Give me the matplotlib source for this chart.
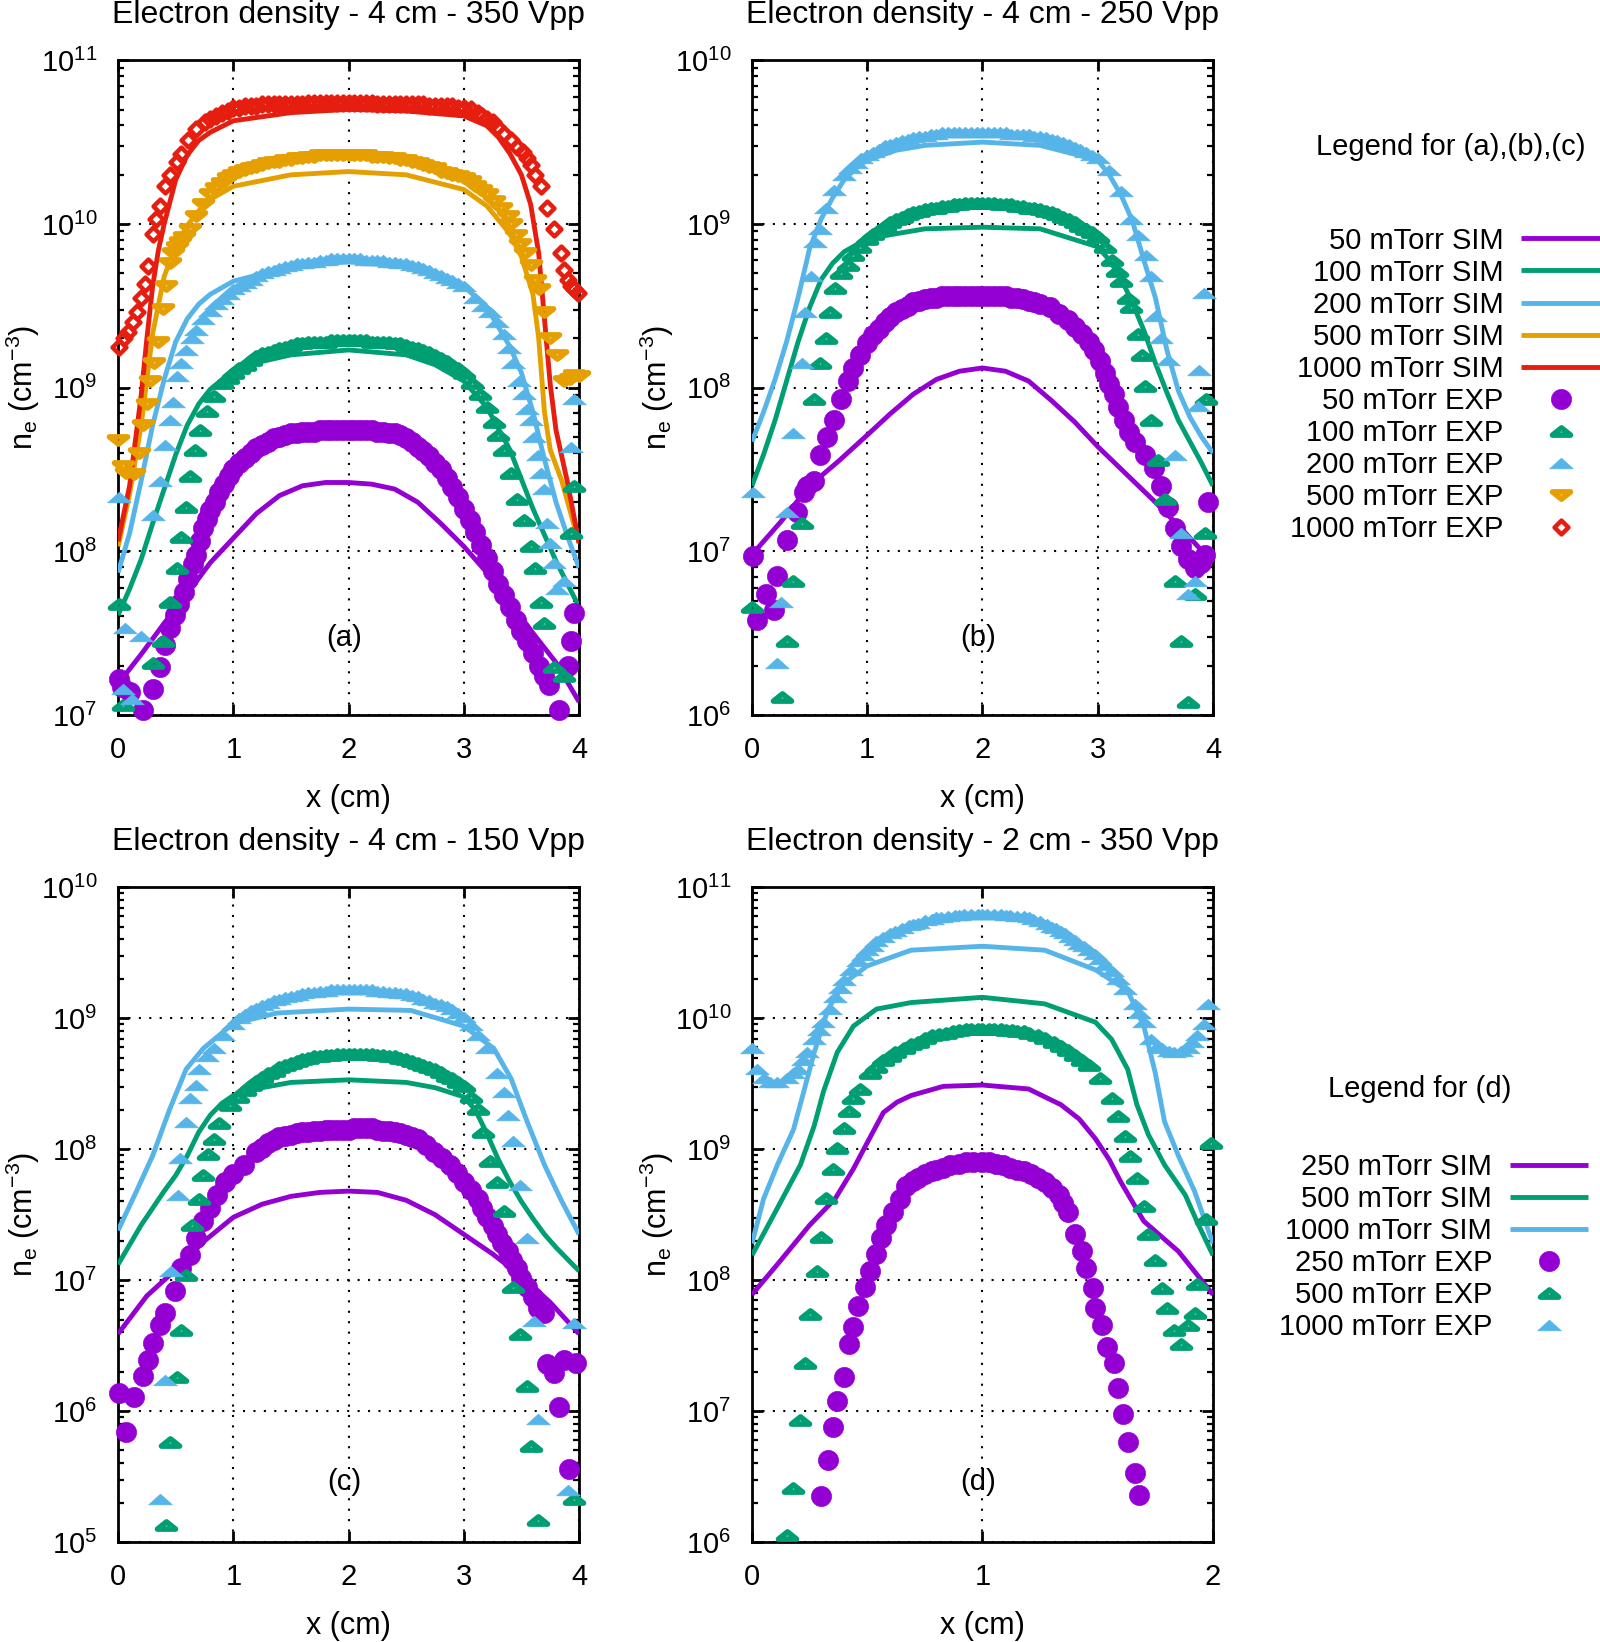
import numpy as np
import matplotlib
matplotlib.use("Agg")
import matplotlib.pyplot as plt
from matplotlib.path import Path
from matplotlib.ticker import LogLocator, FixedLocator, NullFormatter

# gnuplot-like palette
PURPLE = '#9400d3'
GREEN = '#009e73'
BLUE = '#56b4e9'
ORANGE = '#e69f00'
RED = '#e51e10'

plt.rcParams.update({
    "font.family": ["Liberation Sans", "DejaVu Sans"],
    "mathtext.fontset": "custom",
    "mathtext.rm": "Liberation Sans",
    "mathtext.it": "Liberation Sans:italic",
    "mathtext.bf": "Liberation Sans:bold",
    "mathtext.default": "regular",
    "font.size": 21,
})

# ---------------- data (log10 of n_e in cm^-3) ----------------
# (a) 4 cm - 350 Vpp
a_x_sim50 = [0, 0.2, 0.4, 0.6, 0.8, 1.0, 1.2, 1.4, 1.6, 1.8, 2.0, 2.2, 2.4, 2.6, 2.8, 3.0, 3.2, 3.4, 3.6, 3.8, 4.0]
a_sim50 = [7.19, 7.37, 7.56, 7.74, 7.93, 8.08, 8.23, 8.34, 8.40, 8.42, 8.42, 8.41, 8.38, 8.30, 8.17, 8.03, 7.87, 7.69, 7.50, 7.32, 7.08]
a_x_sim100 = [0, 0.1, 0.2, 0.3, 0.4, 0.5, 0.6, 0.7, 0.8, 1.0, 1.25, 1.5, 2.0, 2.5, 2.75, 3.0, 3.2, 3.4, 3.6, 3.8, 4.0]
a_sim100 = [7.61, 7.77, 7.95, 8.17, 8.38, 8.59, 8.77, 8.90, 8.99, 9.09, 9.16, 9.20, 9.23, 9.20, 9.14, 9.04, 8.88, 8.62, 8.26, 7.94, 7.66]
a_x_sim200 = [0, 0.1, 0.2, 0.3, 0.4, 0.5, 0.6, 0.7, 0.8, 1.0, 1.5, 2.0, 2.5, 3.0, 3.2, 3.4, 3.5, 3.6, 3.7, 3.8, 3.9, 4.0]
a_sim200 = [7.87, 8.11, 8.43, 8.77, 9.05, 9.28, 9.42, 9.51, 9.57, 9.65, 9.74, 9.77, 9.74, 9.62, 9.49, 9.25, 9.09, 8.85, 8.56, 8.30, 8.09, 7.90]
a_x_sim500 = [0, 0.1, 0.2, 0.3, 0.4, 0.5, 0.6, 0.7, 0.8, 1.0, 1.5, 2.0, 2.5, 3.0, 3.2, 3.4, 3.5, 3.6, 3.65, 3.7, 3.75, 3.85, 4.0]
a_sim500 = [8.03, 8.35, 8.77, 9.33, 9.68, 9.86, 9.99, 10.08, 10.15, 10.23, 10.30, 10.32, 10.30, 10.21, 10.11, 9.94, 9.80, 9.57, 9.30, 8.85, 8.62, 8.43, 8.05]
a_x_sim1000 = [0, 0.1, 0.2, 0.25, 0.3, 0.35, 0.4, 0.5, 0.6, 0.7, 0.8, 1.0, 1.5, 2.0, 2.5, 3.0, 3.2, 3.3, 3.4, 3.5, 3.58, 3.65, 3.7, 3.75, 3.8, 3.9, 4.0]
a_sim1000 = [8.06, 8.40, 8.95, 9.30, 9.62, 9.84, 10.00, 10.27, 10.42, 10.51, 10.56, 10.63, 10.68, 10.70, 10.69, 10.66, 10.60, 10.53, 10.43, 10.30, 10.12, 9.82, 9.42, 9.02, 8.74, 8.42, 8.05]

a_x_exp50 = [0.01, 0.03, 0.1, 0.22, 0.30, 0.36, 0.41, 0.45, 0.49, 0.53, 0.57, 0.61, 0.65, 0.68, 0.71, 0.74, 0.77, 0.80, 0.84, 0.88,
             0.92, 0.96, 1.0, 1.05, 1.1, 1.15, 1.2, 1.25, 1.3, 1.35, 1.4, 1.45, 1.5, 1.55, 1.6, 1.65, 1.7, 1.75, 1.8, 1.85,
             1.9, 1.95, 2.0, 2.05, 2.1, 2.15, 2.2, 2.25, 2.3, 2.35, 2.4, 2.45, 2.5,
             2.55, 2.6, 2.65, 2.7, 2.75, 2.8, 2.85, 2.9, 2.95, 3.0, 3.05, 3.1, 3.15, 3.2, 3.25, 3.3, 3.35, 3.4, 3.45, 3.5,
             3.55, 3.6, 3.65, 3.7, 3.74, 3.83, 3.9, 3.93, 3.96]
a_exp50 = [7.22, 7.17, 7.14, 7.03, 7.16, 7.29, 7.43, 7.53, 7.61, 7.68, 7.75, 7.83, 7.92, 7.98, 8.06, 8.14, 8.20, 8.25, 8.30, 8.36,
           8.41, 8.46, 8.50, 8.54, 8.57, 8.60, 8.63, 8.65, 8.67, 8.69, 8.70, 8.71, 8.72, 8.72, 8.73, 8.73, 8.73, 8.74, 8.74, 8.74,
           8.74, 8.74, 8.74, 8.74, 8.74, 8.74, 8.74, 8.73, 8.73, 8.72, 8.72, 8.71, 8.69,
           8.67, 8.64, 8.61, 8.58, 8.54, 8.50, 8.45, 8.39, 8.33, 8.26, 8.19, 8.12, 8.04, 7.96, 7.88, 7.80, 7.73, 7.66, 7.58, 7.51,
           7.45, 7.38, 7.30, 7.24, 7.18, 7.03, 7.30, 7.45, 7.62]
a_x_exp100 = [0.01, 0.04, 0.30, 0.39, 0.45, 0.51, 0.55, 0.59, 0.62, 0.67, 0.71, 0.77, 0.83,
              0.9, 0.95, 1.0, 1.05, 1.1, 1.15, 1.2, 1.25, 1.3, 1.35, 1.4, 1.45, 1.5, 1.55, 1.6, 1.65, 1.7, 1.75, 1.8, 1.85,
              1.9, 1.95, 2.0, 2.05, 2.1, 2.15, 2.2, 2.25, 2.3, 2.35, 2.4, 2.45, 2.5, 2.55, 2.6, 2.65, 2.7, 2.75, 2.8, 2.85,
              2.9, 2.95, 3.0, 3.07, 3.14, 3.2, 3.26, 3.3,
              3.35, 3.41, 3.46, 3.52, 3.58, 3.62, 3.67, 3.70, 3.78, 3.87, 3.93, 3.96]
a_exp100 = [7.68, 7.06, 7.32, 7.45, 7.69, 7.90, 8.09, 8.27, 8.46, 8.62, 8.74, 8.86, 8.95,
            9.03, 9.06, 9.09, 9.12, 9.14, 9.17, 9.19, 9.21, 9.22, 9.23, 9.24, 9.25, 9.26, 9.27, 9.27, 9.28, 9.28, 9.28, 9.28, 9.29,
            9.29, 9.29, 9.29, 9.29, 9.29, 9.29, 9.28, 9.28, 9.28, 9.28, 9.27, 9.27, 9.26, 9.25, 9.24, 9.23, 9.22, 9.20, 9.18, 9.16,
            9.14, 9.12, 9.09, 9.03, 8.96, 8.88, 8.79, 8.71,
            8.62, 8.48, 8.32, 8.19, 8.03, 7.90, 7.69, 7.56, 7.29, 7.24, 8.11, 8.40]
a_x_exp200 = [0.01, 0.04, 0.06, 0.12, 0.20, 0.30, 0.36, 0.41, 0.45, 0.48, 0.51, 0.55, 0.59, 0.64, 0.68, 0.74,
              0.8, 0.85, 0.9, 0.95, 1.0, 1.05, 1.1, 1.15, 1.2, 1.25, 1.3, 1.35, 1.4, 1.45, 1.5, 1.55, 1.6, 1.65, 1.7, 1.75,
              1.8, 1.85, 1.9, 1.95, 2.0, 2.05, 2.1, 2.15, 2.2, 2.25, 2.3, 2.35, 2.4, 2.45, 2.5, 2.55, 2.6, 2.65, 2.7, 2.75,
              2.8, 2.85, 2.9, 2.95, 3.0, 3.1,
              3.17, 3.23, 3.29, 3.35, 3.39, 3.43, 3.48, 3.52, 3.55, 3.58, 3.61, 3.64, 3.67, 3.70, 3.72, 3.75, 3.78, 3.81, 3.87, 3.93, 3.96]
a_exp200 = [8.33, 7.16, 7.53, 7.10, 7.48, 8.22, 8.43, 8.65, 8.80, 8.91, 9.07, 9.15, 9.23, 9.30, 9.35, 9.42,
            9.47, 9.51, 9.54, 9.57, 9.60, 9.62, 9.64, 9.66, 9.68, 9.70, 9.71, 9.72, 9.73, 9.74, 9.75, 9.76, 9.76, 9.77, 9.77, 9.78,
            9.78, 9.79, 9.79, 9.79, 9.79, 9.79, 9.79, 9.78, 9.78, 9.78, 9.78, 9.77, 9.77, 9.76, 9.76, 9.75, 9.74, 9.73, 9.72, 9.70,
            9.69, 9.67, 9.66, 9.64, 9.62, 9.55,
            9.50, 9.46, 9.40, 9.33, 9.24, 9.15, 9.04, 8.96, 8.87, 8.80, 8.70, 8.59, 8.48, 8.38, 8.17, 8.05, 7.93, 7.77, 7.82, 8.64, 8.93]
a_x_exp500 = [0.0, 0.04, 0.07, 0.14, 0.18, 0.22, 0.25, 0.28, 0.31, 0.35, 0.39, 0.42, 0.45, 0.48, 0.51, 0.54, 0.57, 0.62, 0.68, 0.74,
              0.8, 0.85, 0.9, 0.95, 1.0, 1.05, 1.1, 1.15, 1.2, 1.25, 1.3, 1.35, 1.4, 1.45, 1.5, 1.55, 1.6, 1.65, 1.7, 1.75,
              1.8, 1.85, 1.9, 1.95, 2.0, 2.05, 2.1, 2.15, 2.2, 2.25, 2.3, 2.35, 2.4, 2.45, 2.5, 2.55, 2.6, 2.65, 2.7, 2.75,
              2.8, 2.85, 2.9, 2.95, 3.0, 3.05, 3.1, 3.15, 3.2, 3.26, 3.32, 3.38, 3.41, 3.45, 3.49, 3.53, 3.58, 3.62, 3.65, 3.70,
              3.75, 3.81, 3.87, 3.92, 3.96, 4.0]
a_exp500 = [8.68, 8.52, 8.48, 8.47, 8.60, 8.77, 8.90, 9.04, 9.15, 9.28, 9.48, 9.62, 9.76, 9.82, 9.86, 9.89, 9.92, 9.97, 10.05, 10.12,
            10.18, 10.22, 10.25, 10.28, 10.30, 10.32, 10.33, 10.34, 10.35, 10.36, 10.37, 10.38, 10.38, 10.39, 10.39, 10.40, 10.40, 10.41, 10.41, 10.42,
            10.42, 10.42, 10.42, 10.42, 10.42, 10.42, 10.42, 10.42, 10.41, 10.41, 10.41, 10.40, 10.40, 10.39, 10.39, 10.38, 10.37, 10.36, 10.35, 10.34,
            10.32, 10.31, 10.30, 10.29, 10.28, 10.26, 10.23, 10.21, 10.18, 10.14, 10.10, 10.05, 10.00, 9.93, 9.88, 9.82, 9.75, 9.66, 9.60, 9.46,
            9.30, 9.20, 9.04, 9.05, 9.08, 9.07]
a_x_exp1000 = [0.01, 0.05, 0.09, 0.13, 0.16, 0.20, 0.23, 0.26, 0.30, 0.33, 0.36, 0.41, 0.45, 0.51, 0.55, 0.61, 0.68, 0.75,
               0.8, 0.85, 0.9, 0.95, 1.0, 1.05, 1.1, 1.15, 1.2, 1.25, 1.3, 1.35, 1.4, 1.45, 1.5, 1.55, 1.6, 1.65, 1.7, 1.75,
               1.8, 1.85, 1.9, 1.95, 2.0, 2.05, 2.1, 2.15, 2.2, 2.25, 2.3, 2.35, 2.4, 2.45, 2.5, 2.55, 2.6, 2.65, 2.7, 2.75,
               2.8, 2.85, 2.9, 2.95, 3.0, 3.06, 3.12, 3.16, 3.2, 3.25, 3.29, 3.35, 3.41, 3.46, 3.51, 3.55, 3.58, 3.62, 3.67, 3.72,
               3.78, 3.84, 3.87, 3.90, 3.93, 3.96, 3.99]
a_exp1000 = [9.25, 9.30, 9.34, 9.40, 9.46, 9.55, 9.63, 9.74, 9.94, 10.03, 10.11, 10.23, 10.30, 10.38, 10.43, 10.51, 10.58, 10.62,
             10.64, 10.66, 10.68, 10.69, 10.71, 10.71, 10.72, 10.72, 10.72, 10.73, 10.73, 10.73, 10.73, 10.73, 10.73, 10.73, 10.73, 10.74, 10.74, 10.74,
             10.74, 10.74, 10.74, 10.74, 10.74, 10.74, 10.74, 10.74, 10.74, 10.73, 10.73, 10.73, 10.73, 10.73, 10.73, 10.73, 10.73, 10.73, 10.72, 10.72,
             10.72, 10.72, 10.72, 10.71, 10.71, 10.70, 10.68, 10.66, 10.64, 10.62, 10.59, 10.55, 10.51, 10.47, 10.44, 10.40, 10.36, 10.30, 10.23, 10.10,
             9.97, 9.82, 9.72, 9.66, 9.62, 9.60, 9.58]

# (b) 4 cm - 250 Vpp
b_x_sim50 = [0, 0.25, 0.5, 0.75, 1.0, 1.2, 1.4, 1.6, 1.8, 2.0, 2.2, 2.4, 2.6, 2.8, 3.0, 3.25, 3.5, 3.75, 4.0]
b_sim50 = [6.98, 7.18, 7.40, 7.55, 7.71, 7.84, 7.96, 8.05, 8.10, 8.12, 8.10, 8.04, 7.92, 7.79, 7.64, 7.47, 7.30, 7.12, 6.93]
b_x_sim100 = [0, 0.1, 0.2, 0.3, 0.4, 0.5, 0.6, 0.7, 0.8, 1.0, 1.5, 2.0, 2.5, 3.0, 3.1, 3.2, 3.3, 3.4, 3.5, 3.6, 3.7, 3.8, 3.9, 4.0]
b_sim100 = [7.40, 7.59, 7.80, 8.04, 8.28, 8.49, 8.66, 8.76, 8.83, 8.91, 8.97, 8.98, 8.97, 8.86, 8.78, 8.67, 8.52, 8.35, 8.15, 7.97, 7.80, 7.67, 7.54, 7.40]
b_x_sim200 = [0, 0.1, 0.2, 0.3, 0.4, 0.5, 0.6, 0.7, 0.8, 0.9, 1.0, 1.25, 1.5, 2.0, 2.5, 3.0, 3.1, 3.2, 3.3, 3.4, 3.5, 3.6, 3.7, 3.8, 3.9, 4.0]
b_sim200 = [7.67, 7.85, 8.05, 8.28, 8.55, 8.85, 9.03, 9.16, 9.27, 9.34, 9.39, 9.45, 9.48, 9.50, 9.48, 9.39, 9.30, 9.18, 9.02, 8.78, 8.55, 8.23, 7.98, 7.82, 7.70, 7.60]

b_x_exp50 = [0.01, 0.04, 0.12, 0.19, 0.22, 0.30, 0.39, 0.45, 0.48, 0.54, 0.59, 0.65, 0.71, 0.77, 0.83, 0.88, 0.94, 1.0, 1.05, 1.1,
             1.15, 1.2, 1.25, 1.3, 1.35, 1.4, 1.45, 1.5, 1.55, 1.6, 1.65, 1.7, 1.75, 1.8, 1.85, 1.9, 1.95, 2.0, 2.05, 2.1,
             2.15, 2.2, 2.25, 2.3, 2.35, 2.4, 2.45, 2.5, 2.59, 2.66, 2.74, 2.8, 2.86,
             2.92, 2.97, 3.02, 3.06, 3.1, 3.14, 3.18, 3.23, 3.27, 3.32, 3.41, 3.49, 3.55, 3.61, 3.67, 3.72, 3.78, 3.84, 3.90, 3.93, 3.96]
b_exp50 = [6.97, 6.58, 6.74, 6.64, 6.85, 7.07, 7.24, 7.36, 7.40, 7.43, 7.59, 7.70, 7.80, 7.93, 8.04, 8.12, 8.20, 8.27, 8.32, 8.36,
           8.40, 8.43, 8.46, 8.48, 8.50, 8.52, 8.53, 8.54, 8.55, 8.55, 8.56, 8.56, 8.56, 8.56, 8.56, 8.56, 8.56, 8.56, 8.56, 8.56,
           8.56, 8.56, 8.55, 8.55, 8.54, 8.53, 8.52, 8.51, 8.49, 8.45, 8.41, 8.37, 8.33,
           8.28, 8.23, 8.16, 8.09, 8.02, 7.96, 7.88, 7.80, 7.73, 7.67, 7.59, 7.51, 7.40, 7.27, 7.14, 7.03, 6.95, 6.90, 6.93, 6.98, 7.30]
b_x_exp100 = [0.0, 0.26, 0.30, 0.36, 0.43, 0.54, 0.59, 0.64, 0.68, 0.72, 0.77, 0.83, 0.88, 0.94,
              1.0, 1.05, 1.1, 1.15, 1.2, 1.25, 1.3, 1.35, 1.4, 1.45, 1.5, 1.55, 1.6, 1.65, 1.7, 1.75, 1.8, 1.85, 1.9, 1.95,
              2.0, 2.05, 2.1, 2.15, 2.2, 2.25, 2.3, 2.35, 2.4, 2.45, 2.5, 2.55, 2.6, 2.65, 2.7, 2.75, 2.8, 2.85, 2.9, 2.95,
              3.0, 3.06, 3.12, 3.17, 3.2, 3.26,
              3.29, 3.35, 3.38, 3.41, 3.46, 3.52, 3.58, 3.67, 3.72, 3.78, 3.84, 3.93, 3.94]
b_exp100 = [6.66, 6.11, 6.45, 6.82, 7.17, 7.93, 8.15, 8.30, 8.46, 8.61, 8.70, 8.75, 8.81, 8.86,
            8.91, 8.94, 8.96, 8.99, 9.01, 9.03, 9.04, 9.06, 9.07, 9.08, 9.09, 9.10, 9.10, 9.11, 9.11, 9.12, 9.12, 9.13, 9.13, 9.13,
            9.13, 9.13, 9.13, 9.12, 9.12, 9.12, 9.11, 9.11, 9.10, 9.10, 9.09, 9.08, 9.07, 9.06, 9.04, 9.03, 9.01, 8.99, 8.97, 8.95,
            8.92, 8.86, 8.78, 8.71, 8.65, 8.55,
            8.49, 8.33, 8.20, 8.01, 7.80, 7.56, 7.32, 6.82, 6.45, 6.08, 6.74, 7.11, 7.93]
b_x_exp200 = [0.01, 0.22, 0.25, 0.30, 0.36, 0.43, 0.46, 0.51, 0.55, 0.59, 0.64, 0.71,
              0.8, 0.85, 0.9, 0.95, 1.0, 1.05, 1.1, 1.15, 1.2, 1.25, 1.3, 1.35, 1.4, 1.45, 1.5, 1.55, 1.6, 1.65, 1.7, 1.75,
              1.8, 1.85, 1.9, 1.95, 2.0, 2.05, 2.1, 2.15, 2.2, 2.25, 2.3, 2.35, 2.4, 2.45, 2.5, 2.55, 2.6, 2.65, 2.7, 2.75,
              2.8, 2.85, 2.9, 2.95, 3.0, 3.1, 3.2, 3.29, 3.35, 3.42,
              3.46, 3.50, 3.55, 3.61, 3.67, 3.72, 3.78, 3.84, 3.87, 3.88, 3.92]
b_exp200 = [7.36, 6.32, 6.69, 7.24, 7.72, 8.15, 8.46, 8.68, 8.89, 8.97, 9.10, 9.21,
            9.30, 9.34, 9.37, 9.40, 9.42, 9.44, 9.46, 9.48, 9.49, 9.50, 9.51, 9.52, 9.53, 9.54, 9.54, 9.55, 9.55, 9.56, 9.56, 9.56,
            9.56, 9.56, 9.56, 9.56, 9.56, 9.56, 9.56, 9.56, 9.56, 9.55, 9.55, 9.55, 9.55, 9.54, 9.54, 9.53, 9.52, 9.51, 9.50, 9.49,
            9.47, 9.46, 9.44, 9.42, 9.40, 9.33, 9.20, 9.03, 8.93, 8.81,
            8.68, 8.44, 8.30, 8.17, 7.59, 7.11, 6.74, 6.82, 7.89, 8.11, 8.58]

# (c) 4 cm - 150 Vpp
c_x_sim50 = [0, 0.25, 0.5, 0.75, 1.0, 1.25, 1.5, 1.75, 2.0, 2.25, 2.5, 2.75, 3.0, 3.25, 3.5, 3.75, 4.0]
c_sim50 = [6.59, 6.88, 7.08, 7.30, 7.48, 7.58, 7.64, 7.67, 7.68, 7.67, 7.61, 7.50, 7.35, 7.20, 7.03, 6.83, 6.59]
c_x_sim100 = [0, 0.2, 0.4, 0.5, 0.6, 0.7, 0.8, 0.9, 1.0, 1.25, 1.5, 2.0, 2.5, 2.75, 3.0, 3.1, 3.2, 3.3, 3.4, 3.5, 3.6, 3.7, 3.8, 3.9, 4.0]
c_sim100 = [7.12, 7.42, 7.68, 7.80, 7.95, 8.13, 8.26, 8.35, 8.41, 8.47, 8.51, 8.53, 8.51, 8.47, 8.40, 8.30, 8.12, 7.92, 7.75, 7.60, 7.47, 7.35, 7.25, 7.16, 7.07]
c_x_sim200 = [0, 0.16, 0.3, 0.45, 0.59, 0.74, 1.0, 1.38, 2.0, 2.54, 3.0, 3.26, 3.41, 3.55, 3.70, 3.84, 4.0]
c_sim200 = [7.38, 7.68, 7.95, 8.31, 8.61, 8.77, 8.96, 9.04, 9.07, 9.06, 8.94, 8.77, 8.54, 8.21, 7.88, 7.62, 7.35]

c_x_exp50 = [0.01, 0.07, 0.14, 0.22, 0.26, 0.30, 0.36, 0.41, 0.49, 0.55, 0.62, 0.68, 0.74, 0.80, 0.86, 0.93, 1.0, 1.09,
             1.2, 1.25, 1.3, 1.35, 1.4, 1.45, 1.5, 1.55, 1.6, 1.65, 1.7, 1.75, 1.8, 1.85, 1.9, 1.95, 2.0, 2.05, 2.1, 2.15,
             2.2, 2.25, 2.3, 2.35, 2.4, 2.45, 2.5, 2.55, 2.6, 2.67, 2.74, 2.81, 2.88, 2.94, 3.0, 3.06, 3.12,
             3.16, 3.20, 3.25, 3.29, 3.33, 3.38, 3.42, 3.46, 3.5, 3.55, 3.6, 3.64, 3.70, 3.72, 3.78, 3.83, 3.87, 3.91, 3.97]
c_exp50 = [6.14, 5.84, 6.11, 6.27, 6.39, 6.52, 6.66, 6.75, 6.92, 7.09, 7.19, 7.32, 7.45, 7.55, 7.65, 7.75, 7.81, 7.88,
           7.98, 8.01, 8.05, 8.07, 8.09, 8.10, 8.11, 8.12, 8.13, 8.13, 8.14, 8.14, 8.15, 8.15, 8.15, 8.15, 8.15, 8.16, 8.16, 8.16,
           8.16, 8.15, 8.14, 8.14, 8.13, 8.12, 8.11, 8.09, 8.08, 8.03, 7.98, 7.93, 7.88, 7.82, 7.75, 7.69, 7.62,
           7.55, 7.48, 7.41, 7.35, 7.28, 7.22, 7.15, 7.09, 7.02, 6.95, 6.87, 6.79, 6.75, 6.36, 6.29, 6.03, 6.39, 5.56, 6.37]
c_x_exp100 = [0.42, 0.45, 0.51, 0.55, 0.59, 0.64, 0.70, 0.74, 0.78, 0.83, 0.88, 0.97, 1.04,
              1.1, 1.15, 1.2, 1.25, 1.3, 1.35, 1.4, 1.45, 1.5, 1.55, 1.6, 1.65, 1.7, 1.75, 1.8, 1.85, 1.9, 1.95, 2.0, 2.05,
              2.1, 2.15, 2.2, 2.25, 2.3, 2.35, 2.4, 2.45, 2.5, 2.55, 2.6, 2.65, 2.7, 2.75, 2.8, 2.85, 2.9, 2.95, 3.0,
              3.06, 3.12, 3.17, 3.23, 3.29, 3.35, 3.43, 3.49, 3.55, 3.58, 3.64, 3.96]
c_exp100 = [5.13, 5.76, 6.26, 6.62, 7.04, 7.42, 7.62, 7.80, 7.96, 8.08, 8.20, 8.34, 8.40,
            8.45, 8.49, 8.52, 8.55, 8.58, 8.60, 8.63, 8.64, 8.66, 8.67, 8.69, 8.70, 8.71, 8.71, 8.72, 8.72, 8.73, 8.73, 8.73, 8.73,
            8.73, 8.73, 8.73, 8.72, 8.72, 8.71, 8.71, 8.70, 8.69, 8.67, 8.66, 8.64, 8.63, 8.61, 8.59, 8.56, 8.54, 8.51, 8.48,
            8.40, 8.31, 8.13, 7.91, 7.75, 7.53, 6.95, 6.59, 6.19, 5.73, 5.17, 5.33]
c_x_exp200 = [0.36, 0.41, 0.46, 0.52, 0.54, 0.59, 0.62, 0.68, 0.70, 0.77, 0.83, 0.91,
              1.0, 1.05, 1.1, 1.15, 1.2, 1.25, 1.3, 1.35, 1.4, 1.45, 1.5, 1.55, 1.6, 1.65, 1.7, 1.75, 1.8, 1.85, 1.9, 1.95,
              2.0, 2.05, 2.1, 2.15, 2.2, 2.25, 2.3, 2.35, 2.4, 2.45, 2.5, 2.55, 2.6, 2.65, 2.7, 2.75, 2.8, 2.85, 2.9, 2.95,
              3.0, 3.06, 3.12, 3.2, 3.29, 3.35, 3.38, 3.43, 3.49, 3.55, 3.61, 3.64, 3.90, 3.96]
c_exp200 = [5.33, 6.24, 7.07, 7.65, 7.93, 8.21, 8.39, 8.49, 8.61, 8.71, 8.77, 8.87,
            8.96, 9.00, 9.03, 9.06, 9.08, 9.10, 9.12, 9.14, 9.15, 9.16, 9.17, 9.18, 9.19, 9.20, 9.20, 9.21, 9.21, 9.22, 9.22, 9.22,
            9.22, 9.22, 9.22, 9.22, 9.22, 9.21, 9.21, 9.20, 9.20, 9.19, 9.19, 9.18, 9.17, 9.15, 9.14, 9.12, 9.11, 9.09, 9.07, 9.04,
            9.01, 8.95, 8.87, 8.77, 8.58, 8.44, 8.26, 8.06, 7.73, 7.32, 6.69, 5.94, 5.40, 6.67]

# (d) 2 cm - 350 Vpp
d_x_sim250 = [0, 0.11, 0.25, 0.36, 0.44, 0.5, 0.57, 0.63, 0.69, 0.83, 1.0, 1.2, 1.34, 1.42, 1.49, 1.55, 1.60, 1.70, 1.85, 2.0]
d_sim250 = [7.89, 8.12, 8.42, 8.62, 8.85, 9.05, 9.28, 9.36, 9.41, 9.48, 9.49, 9.46, 9.34, 9.23, 9.08, 8.92, 8.75, 8.45, 8.22, 7.89]
d_x_sim500 = [0, 0.11, 0.21, 0.27, 0.31, 0.37, 0.44, 0.54, 0.69, 1.0, 1.27, 1.49, 1.56, 1.63, 1.67, 1.72, 1.79, 1.88, 1.93, 2.0]
d_sim500 = [8.19, 8.55, 8.88, 9.18, 9.44, 9.74, 9.94, 10.07, 10.12, 10.16, 10.11, 9.97, 9.84, 9.61, 9.34, 9.11, 8.88, 8.65, 8.45, 8.19]
d_x_sim1000 = [0, 0.05, 0.11, 0.18, 0.22, 0.27, 0.33, 0.40, 0.5, 0.69, 1.0, 1.27, 1.49, 1.63, 1.70, 1.75, 1.79, 1.85, 1.92, 2.0]
d_sim1000 = [8.28, 8.62, 8.88, 9.15, 9.41, 9.74, 10.07, 10.27, 10.40, 10.52, 10.55, 10.52, 10.37, 10.21, 9.94, 9.58, 9.21, 8.95, 8.68, 8.28]

d_x_exp250 = [0.30, 0.33, 0.35, 0.37, 0.40, 0.42, 0.44, 0.46, 0.49, 0.51, 0.54, 0.56, 0.58, 0.61, 0.64, 0.67, 0.70, 0.72, 0.75, 0.78,
              0.80, 0.83, 0.86, 0.90, 0.93, 0.96, 1.0, 1.03, 1.06, 1.09, 1.12, 1.15, 1.18, 1.21, 1.24, 1.27, 1.30, 1.33, 1.35, 1.37,
              1.40, 1.43, 1.45, 1.48, 1.49, 1.52, 1.54, 1.57, 1.59, 1.61, 1.63, 1.66, 1.68]
d_exp250 = [6.35, 6.63, 6.88, 7.08, 7.26, 7.51, 7.64, 7.80, 7.95, 8.07, 8.20, 8.32, 8.42, 8.52, 8.62, 8.72, 8.76, 8.78, 8.81, 8.83,
            8.84, 8.86, 8.88, 8.89, 8.90, 8.90, 8.90, 8.90, 8.89, 8.88, 8.86, 8.84, 8.83, 8.81, 8.78, 8.75, 8.70, 8.65, 8.59, 8.52,
            8.35, 8.22, 8.09, 7.94, 7.79, 7.66, 7.49, 7.37, 7.18, 6.98, 6.76, 6.53, 6.36]
d_x_exp500 = [0.15, 0.18, 0.21, 0.23, 0.25, 0.28, 0.30, 0.32, 0.35, 0.37, 0.40, 0.42, 0.44, 0.47, 0.51, 0.54, 0.57, 0.60, 0.62, 0.66,
              0.69, 0.72, 0.75, 0.78, 0.81, 0.84, 0.87, 0.9, 0.93, 0.95, 0.98, 1.0, 1.03, 1.05, 1.08, 1.1, 1.13, 1.15, 1.18, 1.2,
              1.24, 1.27, 1.31, 1.34, 1.37, 1.40, 1.43, 1.46, 1.51, 1.56, 1.59, 1.62, 1.64, 1.67, 1.70, 1.72,
              1.75, 1.78, 1.80, 1.83, 1.86, 1.89, 1.92, 1.93, 1.97, 1.99]
d_exp500 = [6.05, 6.41, 6.93, 7.37, 7.74, 8.07, 8.33, 8.63, 8.85, 9.01, 9.16, 9.29, 9.39, 9.46, 9.58, 9.63, 9.68, 9.71, 9.74, 9.77,
            9.80, 9.82, 9.85, 9.87, 9.88, 9.89, 9.90, 9.91, 9.92, 9.92, 9.92, 9.92, 9.92, 9.92, 9.92, 9.91, 9.91, 9.90, 9.90, 9.89,
            9.87, 9.85, 9.82, 9.79, 9.76, 9.72, 9.68, 9.64, 9.54, 9.39, 9.25, 9.10, 8.95, 8.78, 8.57, 8.35,
            8.15, 7.94, 7.79, 7.62, 7.51, 7.66, 7.75, 7.97, 8.47, 9.05]
d_x_exp1000 = [0.0, 0.02, 0.05, 0.08, 0.11, 0.15, 0.18, 0.20, 0.22, 0.24, 0.27, 0.29, 0.31, 0.34, 0.36, 0.38, 0.40, 0.43, 0.46, 0.48,
               0.50, 0.52, 0.54, 0.57, 0.6, 0.62, 0.65, 0.68, 0.7, 0.72, 0.75, 0.78, 0.8, 0.82, 0.85, 0.88, 0.9, 0.92, 0.95, 0.98,
               1.0, 1.02, 1.05, 1.08, 1.1, 1.12, 1.15, 1.18, 1.2, 1.22, 1.25, 1.28, 1.3, 1.32, 1.34, 1.36, 1.38, 1.40, 1.42, 1.44,
               1.46, 1.49, 1.51, 1.53, 1.56, 1.59, 1.62, 1.66, 1.68, 1.70, 1.73, 1.76, 1.78, 1.81, 1.83, 1.86, 1.89, 1.91, 1.93, 1.96, 1.98]
d_exp1000 = [9.77, 9.61, 9.54, 9.51, 9.51, 9.54, 9.58, 9.61, 9.68, 9.74, 9.84, 9.91, 9.97, 10.07, 10.16, 10.23, 10.29, 10.37, 10.44, 10.48,
             10.52, 10.55, 10.59, 10.62, 10.65, 10.67, 10.69, 10.71, 10.72, 10.73, 10.75, 10.76, 10.77, 10.77, 10.78, 10.79, 10.79, 10.80, 10.80, 10.80,
             10.80, 10.80, 10.80, 10.80, 10.79, 10.79, 10.78, 10.78, 10.77, 10.76, 10.74, 10.72, 10.70, 10.69, 10.67, 10.65, 10.62, 10.60, 10.57, 10.55,
             10.52, 10.49, 10.45, 10.41, 10.36, 10.30, 10.22, 10.11, 10.04, 9.97, 9.84, 9.79, 9.77, 9.75, 9.74, 9.75, 9.77, 9.82, 9.87, 9.96, 10.11]

# ---------------- marker shapes ----------------
TRI_UP = Path([(-1, -0.4), (1, -0.4), (0, 0.4), (0, 0)],
              [Path.MOVETO, Path.LINETO, Path.LINETO, Path.CLOSEPOLY])
TRI_DN = Path([(-1, 0.4), (1, 0.4), (0, -0.4), (0, 0)],
              [Path.MOVETO, Path.LINETO, Path.LINETO, Path.CLOSEPOLY])
TRI_FULL = Path([(-1, -0.45), (1, -0.45), (0, 0.45), (0, 0)],
                [Path.MOVETO, Path.LINETO, Path.LINETO, Path.CLOSEPOLY])
DIAMOND = Path([(0, 1), (1, 0), (0, -1), (-1, 0), (0, 0)],
               [Path.MOVETO, Path.LINETO, Path.LINETO, Path.LINETO, Path.CLOSEPOLY])

EXP_STYLE = {
    PURPLE: dict(marker='o', markersize=14.5, mfc=PURPLE, mec=PURPLE, mew=0.5),
    GREEN: dict(marker=TRI_UP, markersize=13, mfc='none', mec=GREEN, mew=4),
    BLUE: dict(marker=TRI_FULL, markersize=17, mfc=BLUE, mec=BLUE, mew=0.5),
    ORANGE: dict(marker=TRI_DN, markersize=13, mfc='none', mec=ORANGE, mew=4),
    RED: dict(marker=DIAMOND, markersize=10, mfc='none', mec=RED, mew=3.2),
}


def log_to_ne(vals):
    return 10.0 ** np.asarray(vals)


def sim(ax, x, y, color, label=None):
    ax.plot(x, log_to_ne(y), color=color, lw=3.5, solid_capstyle='butt', label=label, zorder=3)


def exp(ax, x, y, color, label=None):
    ax.plot(x, log_to_ne(y), linestyle='none', label=label, clip_on=False, zorder=4,
            **EXP_STYLE[color])


def setup_axes(ax, xmax, ymin, ymax, title, tag, tag_y):
    ax.set_yscale('log')
    ax.set_xlim(0, xmax)
    ax.set_ylim(10.0 ** ymin, 10.0 ** ymax)
    ax.xaxis.set_major_locator(FixedLocator(list(range(xmax + 1))))
    ax.yaxis.set_major_locator(LogLocator(base=10, numticks=20))
    ax.yaxis.set_minor_locator(LogLocator(base=10, subs=np.arange(2, 10), numticks=20))
    ax.yaxis.set_minor_formatter(NullFormatter())
    ax.tick_params(which='both', direction='in', top=True, right=True)
    ax.tick_params(which='major', length=8, width=2, pad=15, labelsize=21)
    ax.tick_params(which='minor', length=4, width=1.6)
    ax.set_axisbelow(True)
    ax.grid(True, which='major', color='black', linestyle=(0, (1, 4)), linewidth=1.5)
    for s in ax.spines.values():
        s.set_linewidth(2)
    ax.set_title(title, fontsize=23, pad=27)
    ax.set_xlabel('x (cm)', fontsize=22)
    ax.set_ylabel(r'n$_e$ (cm$^{-3}$)', fontsize=22)
    ax.xaxis.set_label_coords(0.5, -0.105)
    ax.yaxis.set_label_coords(-0.165, 0.5)
    ax.text(0.49, tag_y, tag, transform=ax.transAxes, ha='center', va='center', fontsize=21)


fig = plt.figure(figsize=(16, 16.42), dpi=100)
W, Hh = 0.2881, 0.3987
ax_a = fig.add_axes([0.0738, 0.5646, W, Hh])
ax_b = fig.add_axes([0.4700, 0.5646, W, Hh])
ax_c = fig.add_axes([0.0738, 0.0609, W, Hh])
ax_d = fig.add_axes([0.4700, 0.0609, W, Hh])

# (a)
sim(ax_a, a_x_sim50, a_sim50, PURPLE, '50 mTorr SIM')
sim(ax_a, a_x_sim100, a_sim100, GREEN, '100 mTorr SIM')
sim(ax_a, a_x_sim200, a_sim200, BLUE, '200 mTorr SIM')
sim(ax_a, a_x_sim500, a_sim500, ORANGE, '500 mTorr SIM')
sim(ax_a, a_x_sim1000, a_sim1000, RED, '1000 mTorr SIM')
exp(ax_a, a_x_exp50, a_exp50, PURPLE, '50 mTorr EXP')
exp(ax_a, a_x_exp100, a_exp100, GREEN, '100 mTorr EXP')
exp(ax_a, a_x_exp200, a_exp200, BLUE, '200 mTorr EXP')
exp(ax_a, a_x_exp500, a_exp500, ORANGE, '500 mTorr EXP')
exp(ax_a, a_x_exp1000, a_exp1000, RED, '1000 mTorr EXP')
setup_axes(ax_a, 4, 7, 11, 'Electron density - 4 cm - 350 Vpp', '(a)', 0.118)

# (b)
sim(ax_b, b_x_sim50, b_sim50, PURPLE)
sim(ax_b, b_x_sim100, b_sim100, GREEN)
sim(ax_b, b_x_sim200, b_sim200, BLUE)
exp(ax_b, b_x_exp50, b_exp50, PURPLE)
exp(ax_b, b_x_exp100, b_exp100, GREEN)
exp(ax_b, b_x_exp200, b_exp200, BLUE)
setup_axes(ax_b, 4, 6, 10, 'Electron density - 4 cm - 250 Vpp', '(b)', 0.118)

# (c)
sim(ax_c, c_x_sim50, c_sim50, PURPLE)
sim(ax_c, c_x_sim100, c_sim100, GREEN)
sim(ax_c, c_x_sim200, c_sim200, BLUE)
exp(ax_c, c_x_exp50, c_exp50, PURPLE)
exp(ax_c, c_x_exp100, c_exp100, GREEN)
exp(ax_c, c_x_exp200, c_exp200, BLUE)
setup_axes(ax_c, 4, 5, 10, 'Electron density - 4 cm - 150 Vpp', '(c)', 0.091)

# (d)
sim(ax_d, d_x_sim250, d_sim250, PURPLE, '250 mTorr SIM')
sim(ax_d, d_x_sim500, d_sim500, GREEN, '500 mTorr SIM')
sim(ax_d, d_x_sim1000, d_sim1000, BLUE, '1000 mTorr SIM')
exp(ax_d, d_x_exp250, d_exp250, PURPLE, '250 mTorr EXP')
exp(ax_d, d_x_exp500, d_exp500, GREEN, '500 mTorr EXP')
exp(ax_d, d_x_exp1000, d_exp1000, BLUE, '1000 mTorr EXP')
setup_axes(ax_d, 2, 6, 11, 'Electron density - 2 cm - 350 Vpp', '(d)', 0.091)

# legends on the right
leg_kw = dict(frameon=False, markerfirst=False, fontsize=21, handlelength=2.7,
              handletextpad=0.6, labelspacing=0.14, borderpad=0, borderaxespad=0, numpoints=1)
h, l = ax_a.get_legend_handles_labels()
fig.legend(h, l, loc='upper right', bbox_to_anchor=(1.0, 0.862), **leg_kw)
fig.text(0.907, 0.9107, 'Legend for (a),(b),(c)', ha='center', va='center', fontsize=21)

h, l = ax_d.get_legend_handles_labels()
fig.legend(h, l, loc='upper right', bbox_to_anchor=(0.9927, 0.2978), **leg_kw)
fig.text(0.8875, 0.3368, 'Legend for (d)', ha='center', va='center', fontsize=21)

fig.savefig('out.png', dpi=100)
